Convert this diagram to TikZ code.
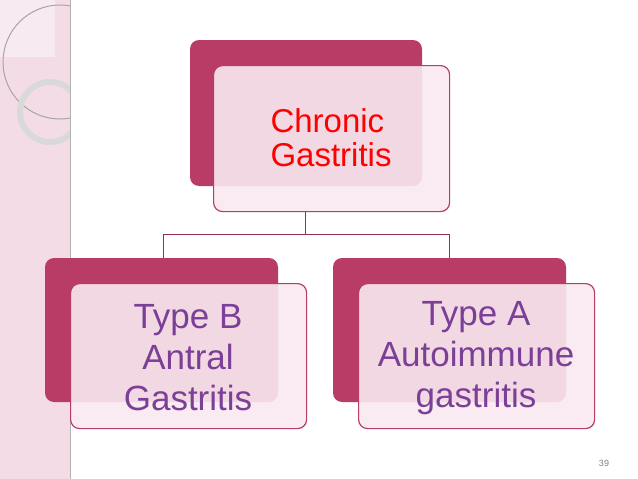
\documentclass[tikz,border=0pt]{standalone}
\usepackage{fontspec}
\setmainfont{Liberation Sans}
\definecolor{dk}{HTML}{B83C66}
\definecolor{lt}{HTML}{F9E9F0}
\definecolor{strip}{HTML}{F3DCE6}
\definecolor{pur}{HTML}{7B3F98}
\begin{document}
\begin{tikzpicture}[x=1pt,y=-1pt,
 back/.style={fill=dk,rounded corners=9pt},
 front/.style={draw=dk,line width=1.2pt,fill=lt,fill opacity=0.9,rounded corners=9pt},
 lbl/.style={font=\fontsize{35}{41}\selectfont,text=pur,align=center}]
\useasboundingbox (0,0) rectangle (638,479);
\fill[white] (0,0) rectangle (638,479);
\fill[strip] (0,0) rectangle (70,479);
\fill[white,opacity=0.4] (0,0) rectangle (55,57);
\begin{scope}
\clip (0,0) rectangle (70,479);
\draw[gray!70,line width=1pt] (60,62) circle (57);
\draw[gray!30,line width=6pt] (50,112) circle (30);
\end{scope}
\draw[gray!60,line width=1pt] (70,0) -- (70,479);
% top
\fill[back] (190,40) rectangle (422,186);
\node[front,minimum width=236pt,minimum height=146pt,anchor=north west] (top) at (213,65) {};
\node[font=\fontsize{33}{34}\selectfont,text=red,align=left,anchor=west] (tt) at (267,138) {Chronic\\Gastritis};
% left
\fill[back] (45,258) rectangle (278,402);
\node[front,minimum width=236pt,minimum height=145pt,anchor=north west] (lb) at (70,283) {};
\node[lbl] (lt) at (188,358) {Type B\\Antral\\Gastritis};
% right
\fill[back] (333,258) rectangle (566,402);
\node[front,minimum width=236pt,minimum height=145pt,anchor=north west] (rb) at (358,283) {};
\node[lbl] (rt) at (476,358) {Type A\\Autoimmune\\gastritis};
% connectors
\coordinate (j) at (305,234);
\draw[dk!80!black,line width=0.8pt] (top.south -| j) -- (j);
\draw[dk!80!black,line width=0.8pt] (163,258) |- (449,234) -- (449,258);
\node[text=gray,font=\fontsize{9}{10}\selectfont] (pg) at (604,463) {39};
\end{tikzpicture}
\end{document}
